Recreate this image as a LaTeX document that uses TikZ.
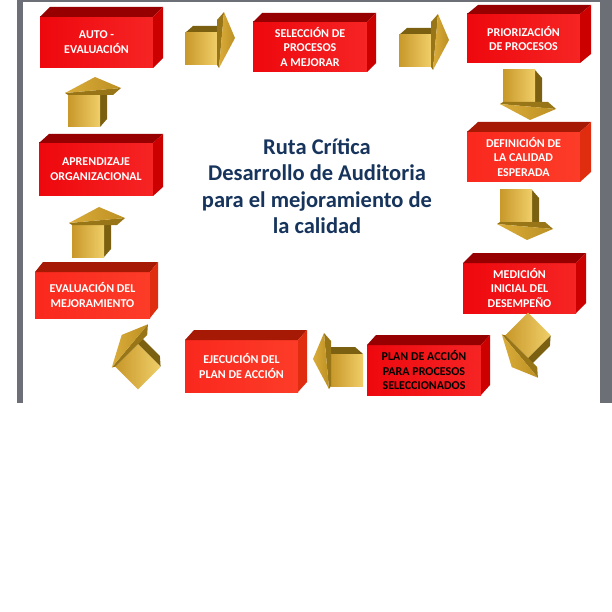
\documentclass[tikz,border=0pt]{standalone}
\usepackage{fontspec}
\setmainfont{Carlito}
\usetikzlibrary{calc}
\definecolor{bordergray}{RGB}{108,112,118}
\definecolor{navy}{RGB}{22,52,92}
\definecolor{redA}{RGB}{238,8,14}
\definecolor{redB}{RGB}{255,92,92}
\definecolor{redC}{RGB}{246,36,36}
\definecolor{oraA}{RGB}{250,40,30}
\definecolor{oraB}{RGB}{255,110,90}
\definecolor{oraC}{RGB}{252,60,40}
\definecolor{redtop}{RGB}{150,0,0}
\definecolor{redside}{RGB}{205,0,0}
\definecolor{oratop}{RGB}{165,25,5}
\definecolor{oraside}{RGB}{225,45,15}
\definecolor{goldA}{RGB}{200,152,42}
\definecolor{goldB}{RGB}{240,206,105}
\definecolor{goldtop}{RGB}{122,96,16}
\definecolor{golddark}{RGB}{152,118,24}
\definecolor{goldC}{RGB}{218,172,58}
\definecolor{goldD}{RGB}{188,144,34}
\tikzset{
  boxfront/.style={minimum width=#1, inner sep=1pt, outer sep=0pt, align=center,
    text=white, font=\bfseries\fontsize{12}{14.8}\selectfont},
  redface/.style={left color=redA, middle color=redB, right color=redC},
  oraface/.style={left color=oraA, middle color=oraB, right color=oraC},
  centertext/.style={align=center, text=navy, font=\bfseries\fontsize{22.5}{26.5}\selectfont},
  pics/goldarrow/.style={code={
    \fill[goldtop] (-25,-7) -- (7,-7) -- (13,-14) -- (-17,-14) -- cycle;
    \shade[left color=goldA, right color=goldB] (-25,-7) rectangle (7,25);
    \fill[golddark] (7,-20) -- (14,-28) -- (9,28) -- (7,25) -- cycle;
    \shade[left color=goldC, right color=goldD] (14,-28) -- (25,-2) -- (9,28) -- cycle;
  }}
}
\begin{document}
\begin{tikzpicture}[x=1pt,y=-1pt]
\useasboundingbox (0,0) rectangle (612,612);
\fill[white] (0,0) rectangle (612,612);
% slide frame
\fill[bordergray] (17,0) rectangle (23,403);
\fill[bordergray] (600,0) rectangle (612,403);
\fill[bordergray] (17,0) rectangle (600,2);

% boxes (front faces)
\node[boxfront=113pt, minimum height=51pt, redface] (b1) at (96.5,42.5) {AUTO -\\EVALUACIÓN};
\node[boxfront=114pt, minimum height=50pt, redface] (b2) at (310,47) {SELECCIÓN DE\\PROCESOS\\A MEJORAR};
\node[boxfront=113pt, minimum height=49pt, redface] (b3) at (523.5,38.5) {PRIORIZACIÓN\\DE PROCESOS};
\node[boxfront=113pt, minimum height=50pt, oraface] (b4) at (523.5,157) {DEFINICIÓN DE\\LA CALIDAD\\ESPERADA};
\node[boxfront=113pt, minimum height=50pt, redface] (b5) at (519.5,288) {MEDICIÓN\\INICIAL DEL\\DESEMPEÑO};
\node[boxfront=114pt, minimum height=50pt, redface, text=black] (b6) at (424,370) {PLAN DE ACCIÓN\\PARA PROCESOS\\SELECCIONADOS};
\node[boxfront=113pt, minimum height=52pt, oraface] (b7) at (241.5,366) {EJECUCIÓN DEL\\PLAN DE ACCIÓN};
\node[boxfront=115pt, minimum height=46pt, oraface] (b8) at (92.5,295) {EVALUACIÓN DEL\\MEJORAMIENTO};
\node[boxfront=114pt, minimum height=53pt, redface] (b9) at (96,169.5) {APRENDIZAJE\\ORGANIZACIONAL};

% box top and side faces
\foreach \n/\dx/\dy/\tc/\sc in {b1/10/10/redtop/redside, b2/9/9/redtop/redside,
  b3/11/9/redtop/redside, b4/11/10/oratop/oraside, b5/10/10/redtop/redside,
  b6/9/10/redtop/redside, b7/9/10/oratop/oraside, b8/8/10/oratop/oraside,
  b9/10/9/redtop/redside}{
  \fill[\tc] (\n.north west) -- ++(\dx,-\dy) -- ($(\n.north east)+(\dx,-\dy)$) -- (\n.north east) -- cycle;
  \fill[\sc] (\n.north east) -- ++(\dx,-\dy) -- ($(\n.south east)+(\dx,-\dy)$) -- (\n.south east) -- cycle;
}

% gold block arrows
\pic (a1) at (210,40) {goldarrow};
\pic (a2) at (424,42) {goldarrow};
\pic[rotate=-90] (a3) at (528,95) {goldarrow};
\pic[rotate=-90] (a4) at (525,215) {goldarrow};
\pic[rotate=-135] (a5) at (528,348) {goldarrow};
\pic[xscale=-1] (a6) at (338,361) {goldarrow};
\pic[rotate=-45, xscale=-1] (a7) at (138,354) {goldarrow};
\pic[cm={0,1,1,0,(0,0)}] (a8) at (97,232) {goldarrow};
\pic[cm={0,1,1,0,(0,0)}] (a9) at (93,102) {goldarrow};

% title
\node[centertext] (title) at (317,186) {Ruta Crítica\\Desarrollo de Auditoria\\para el mejoramiento de\\la calidad};
\end{tikzpicture}
\end{document}
